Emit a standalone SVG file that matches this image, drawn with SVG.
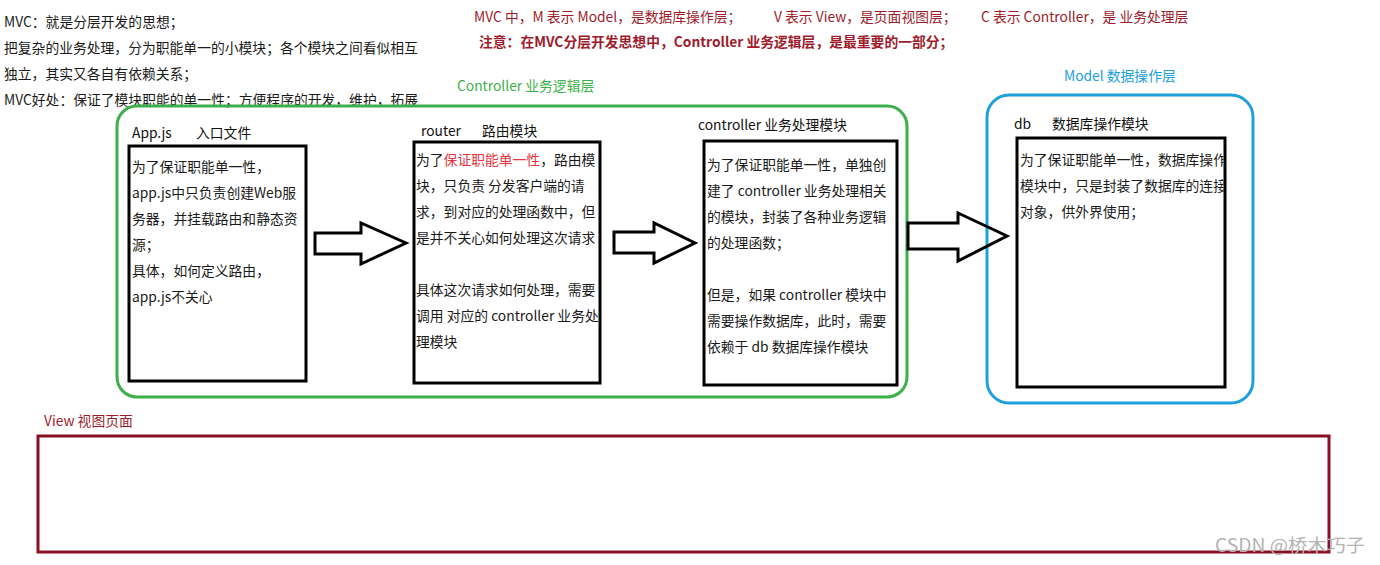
<svg xmlns="http://www.w3.org/2000/svg" width="1380" height="565" viewBox="0 0 1380 565">
<style>
text{font-family:"Noto Sans CJK SC","Noto Sans",sans-serif;}
.t{font-size:13.8px;fill:#1a1a1a;}
.lbl{font-size:13.8px;fill:#111;}
.red{font-size:13.8px;fill:#9e1c2c;}
.box{fill:#fff;stroke:#000;stroke-width:3;}
.arrow{fill:none;stroke:#000;stroke-width:3;stroke-linejoin:miter;}
</style>
<defs>
<clipPath id="clipRouter"><rect x="415.5" y="143.5" width="183" height="238"/></clipPath>
<clipPath id="clipDb"><rect x="1018.5" y="139.5" width="205" height="246"/></clipPath>
</defs>
<rect width="1380" height="565" fill="#fff"/>

<g id="intro">
<text class="t" x="4" y="27">MVC：就是分层开发的思想；</text>
<text class="t" x="4" y="53">把复杂的业务处理，分为职能单一的小模块；各个模块之间看似相互</text>
<text class="t" x="4" y="79">独立，其实又各自有依赖关系；</text>
<text class="t" x="4" y="105">MVC好处：保证了模块职能的单一性；方便程序的开发，维护，拓展</text>
</g>

<g id="legend">
<text class="red" x="474" y="22">MVC 中，M 表示 Model，是数据库操作层；</text>
<text class="red" x="774" y="22">V 表示 View，是页面视图层；</text>
<text class="red" x="981" y="22">C 表示 Controller，是 业务处理层</text>
<text class="red" x="479" y="47" font-weight="bold">注意：在MVC分层开发思想中，Controller 业务逻辑层，是最重要的一部分；</text>
</g>

<g id="controller-layer">
<rect x="117" y="106" width="790" height="291" rx="20" fill="none" stroke="#3cb14a" stroke-width="3"/>
<text x="457" y="91" font-size="13.8" fill="#3cb14a">Controller 业务逻辑层</text>
</g>

<g id="model-layer">
<rect x="987" y="95" width="266" height="308" rx="22" fill="none" stroke="#1ea0dc" stroke-width="3"/>
<text x="1064" y="81" font-size="13.8" fill="#1ea0dc">Model 数据操作层</text>
</g>

<g id="node-app">
<text class="lbl" x="132" y="138">App.js</text>
<text class="lbl" x="196" y="138">入口文件</text>
<rect class="box" x="129" y="146" width="177" height="235"/>
<text class="t" x="132" y="172">为了保证职能单一性，</text>
<text class="t" x="132" y="198">app.js中只负责创建Web服</text>
<text class="t" x="132" y="224">务器，并挂载路由和静态资</text>
<text class="t" x="132" y="250">源；</text>
<text class="t" x="132" y="276">具体，如何定义路由，</text>
<text class="t" x="132" y="302">app.js不关心</text>
</g>

<g id="node-router">
<text class="lbl" x="421" y="136">router</text>
<text class="lbl" x="482" y="136">路由模块</text>
<rect class="box" x="414" y="142" width="186" height="241"/>
<g clip-path="url(#clipRouter)">
<text class="t" x="416" y="165">为了<tspan fill="#e8343c">保证职能单一性</tspan>，路由模</text>
<text class="t" x="416" y="191">块，只负责 分发客户端的请</text>
<text class="t" x="416" y="217">求，到对应的处理函数中，但</text>
<text class="t" x="416" y="243">是并不关心如何处理这次请求</text>
<text class="t" x="416" y="295">具体这次请求如何处理，需要</text>
<text class="t" x="416" y="321">调用 对应的 controller 业务处</text>
<text class="t" x="416" y="347">理模块</text>
</g>
</g>

<g id="node-controller">
<text class="lbl" x="698" y="130">controller 业务处理模块</text>
<rect class="box" x="704" y="141" width="193" height="244"/>
<text class="t" x="707" y="170">为了保证职能单一性，单独创</text>
<text class="t" x="707" y="196">建了 controller 业务处理相关</text>
<text class="t" x="707" y="222">的模块，封装了各种业务逻辑</text>
<text class="t" x="707" y="248">的处理函数；</text>
<text class="t" x="707" y="300">但是，如果 controller 模块中</text>
<text class="t" x="707" y="326">需要操作数据库，此时，需要</text>
<text class="t" x="707" y="352">依赖于 db 数据库操作模块</text>
</g>

<g id="node-db">
<text class="lbl" x="1014" y="129">db</text>
<text class="lbl" x="1052" y="129">数据库操作模块</text>
<rect class="box" x="1017" y="138" width="208" height="249"/>
<g clip-path="url(#clipDb)">
<text class="t" x="1020" y="165">为了保证职能单一性，数据库操作</text>
<text class="t" x="1020" y="191">模块中，只是封装了数据库的连接</text>
<text class="t" x="1020" y="217">对象，供外界使用；</text>
</g>
</g>

<g id="node-view">
<text x="44" y="426" font-size="13.8" fill="#9e1c2c">View 视图页面</text>
<rect x="38" y="436" width="1291" height="116" fill="none" stroke="#8b0f24" stroke-width="3"/>
</g>

<g id="connectors">
<polygon class="arrow" points="315,233 361,233 361,223 406,243 361,264 361,254 315,254"/>
<polygon class="arrow" points="614,232 654,232 654,223 695,243 654,263 654,253 614,253"/>
<polygon class="arrow" points="908,223 958,223 958,213 1007,236 958,261 958,249 908,249"/>
</g>

<text x="1215" y="552" font-size="18" textLength="150" lengthAdjust="spacingAndGlyphs" fill="#b4b4b4" font-family="'Liberation Sans','Noto Sans CJK SC',sans-serif">CSDN @桥木巧子</text>
</svg>
